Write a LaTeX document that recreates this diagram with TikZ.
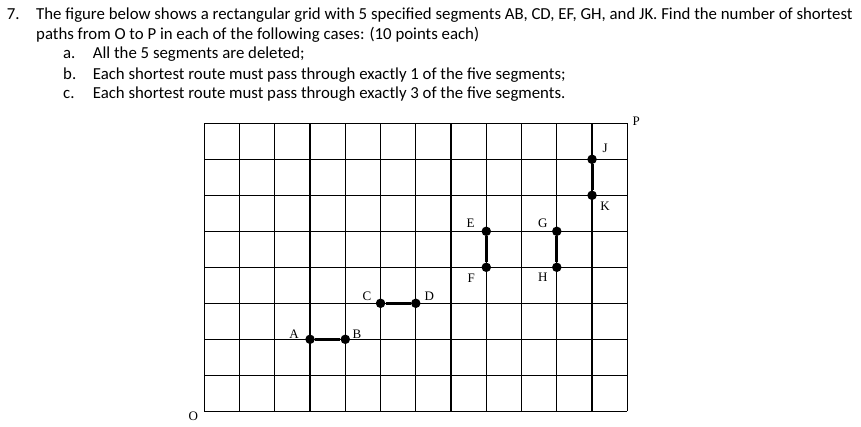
\documentclass[tikz,border=0pt]{standalone}
\usepackage{fontspec}
\setmainfont{Carlito}
\newfontfamily\labfont{Liberation Serif}
\begin{document}
\begin{tikzpicture}[x=35.25pt,y=36pt,
    dot/.style={circle,fill=black,inner sep=0pt,minimum size=9.5pt},
    lab/.style={font=\labfont\fontsize{13}{13}\selectfont,inner sep=0pt},
    txt/.style={anchor=base west,inner sep=0pt,font=\fontsize{16.8}{20}\selectfont},
    seg/.style={line width=3pt}]
\useasboundingbox (-204.3pt,-14.7pt) rectangle (656.7pt,411.3pt);

% question text
\node[txt] (num) at (-197.6pt,391.3pt) {7.};
\node[txt] (q1) at (-168.3pt,391.3pt) {The figure below shows a rectangular grid with 5 specified segments AB, CD, EF, GH, and JK. Find the number of shortest};
\node[txt] (q2) at (-168.3pt,371.8pt) {paths from O to P in each of the following cases: (10 points each)};
\node[txt] (ia) at (-141.3pt,352.8pt) {a.};
\node[txt] (ta) at (-111.6pt,352.8pt) {All the 5 segments are deleted;};
\node[txt] (ib) at (-141.3pt,331.8pt) {b.};
\node[txt] (tb) at (-111.6pt,331.8pt) {Each shortest route must pass through exactly 1 of the five segments;};
\node[txt] (ic) at (-141.3pt,312.3pt) {c.};
\node[txt] (tc) at (-111.6pt,312.3pt) {Each shortest route must pass through exactly 3 of the five segments.};

% the grid
\draw[line width=1.3pt,xstep=1,ystep=1] (0,0) grid (12,8);
\node[lab] (O) at (-0.31,-0.13) {O};
\node[lab] (P) at (12.25,8.07) {P};

% segment ends
\node[dot] (A) at (3,2) {};
\node[dot] (B) at (4,2) {};
\node[dot] (C) at (5,3) {};
\node[dot] (D) at (6,3) {};
\node[dot] (E) at (8,5) {};
\node[dot] (F) at (8,4) {};
\node[dot] (G) at (10,5) {};
\node[dot] (H) at (10,4) {};
\node[dot] (J) at (11,7) {};
\node[dot] (K) at (11,6) {};

\draw[seg] (A) -- (B);
\draw[seg] (C) -- (D);
\draw[seg] (E) -- (F);
\draw[seg] (G) -- (H);
\draw[seg] (J) -- (K);

\node[lab] (tA) at ([shift={(-16pt,4.7pt)}]A) {A};
\node[lab] (tB) at ([shift={(11.7pt,4.7pt)}]B) {B};
\node[lab] (tC) at ([shift={(-13.6pt,7.3pt)}]C) {C};
\node[lab] (tD) at ([shift={(13.4pt,7pt)}]D) {D};
\node[lab] (tE) at ([shift={(-15.6pt,8pt)}]E) {E};
\node[lab] (tF) at ([shift={(-15pt,-10.7pt)}]F) {F};
\node[lab] (tG) at ([shift={(-14pt,8pt)}]G) {G};
\node[lab] (tH) at ([shift={(-14pt,-10pt)}]H) {H};
\node[lab] (tJ) at ([shift={(13pt,10.6pt)}]J) {J};
\node[lab] (tK) at ([shift={(13pt,-10.7pt)}]K) {K};
\end{tikzpicture}
\end{document}
